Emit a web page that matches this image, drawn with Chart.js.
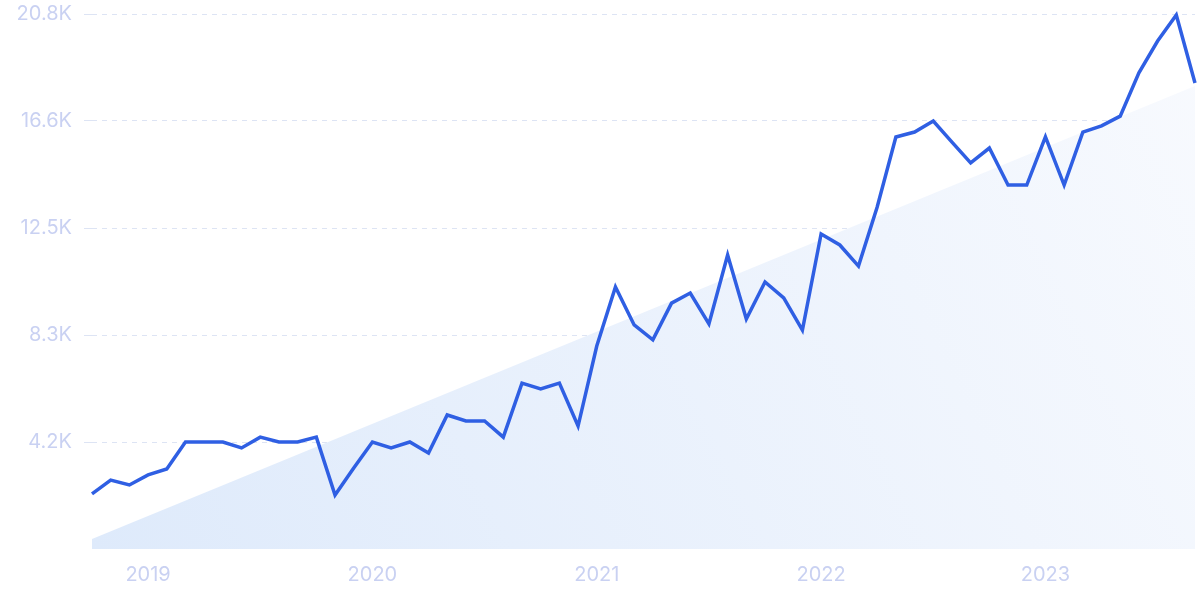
<!DOCTYPE html>
<html>
<head>
<meta charset="utf-8">
<script src="https://cdn.jsdelivr.net/npm/chart.js@4"></script>
<style>
  html, body { margin: 0; padding: 0; background: #fff; }
  #wrap { width: 1200px; height: 600px; overflow: hidden; position: relative; }
  #inner { position: absolute; left: 0; top: -10px; width: 1200px; height: 610px; }
</style>
</head>
<body>
<div id="wrap"><div id="inner"><canvas id="chart"></canvas></div></div>
<script>
// Monthly values (thousands), Oct 2018 .. Sep 2023
const values = [
  2.14, 2.68, 2.49, 2.88, 3.11, 4.16, 4.16, 4.16, 3.93, 4.35,
  4.16, 4.16, 4.35, 2.10, 3.15, 4.16, 3.93, 4.16, 3.73, 5.21,
  4.98, 4.98, 4.35, 6.45, 6.22, 6.45, 4.78, 7.89, 10.19, 8.71,
  8.13, 9.56, 9.95, 8.75, 11.43, 8.94, 10.38, 9.76, 8.51, 12.25,
  11.82, 11.00, 13.30, 16.02, 16.21, 16.64, 15.82, 15.01, 15.59, 14.15,
  14.15, 16.02, 14.15, 16.21, 16.45, 16.83, 18.51, 19.75, 20.76, 18.12
];
// Trend line endpoints
const trendStart = 0.39;
const trendEnd = 18.0;
// Year labels at month index (January)
const yearTicks = [3, 15, 27, 39, 51];
const yearLabels = ['2019', '2020', '2021', '2022', '2023'];

const lineData = values.map((v, i) => ({ x: i, y: v }));
const trendData = [{ x: 0, y: trendStart }, { x: values.length - 1, y: trendEnd }];

const ctx = document.getElementById('chart').getContext('2d');
new Chart(ctx, {
  type: 'line',
  data: {
    datasets: [{
      data: lineData,
      borderColor: '#2f5fe3',
      borderWidth: 3.5,
      pointRadius: 0,
      tension: 0,
      fill: false,
      clip: false,
      order: 0
    }, {
      data: trendData,
      borderWidth: 0,
      pointRadius: 0,
      fill: 'origin',
      order: 1,
      backgroundColor: function(context) {
        const area = context.chart.chartArea;
        if (!area) return 'rgba(225,236,252,0.8)';
        const g = context.chart.ctx.createLinearGradient(area.left, area.bottom, area.right, area.top);
        g.addColorStop(0, 'rgba(222,234,251,1)');
        g.addColorStop(1, 'rgba(248,250,254,1)');
        return g;
      }
    }]
  },
  options: {
    responsive: true,
    maintainAspectRatio: false,
    animation: false,
    layout: { padding: { left: 12, right: 5, top: 0, bottom: 7 } },
    plugins: { legend: { display: false }, tooltip: { enabled: false } },
    scales: {
      x: {
        type: 'linear',
        min: 0,
        max: values.length - 1,
        grid: { display: false },
        border: { display: false },
        afterBuildTicks: function(scale) {
          scale.ticks = yearTicks.map(v => ({ value: v }));
        },
        ticks: {
          autoSkip: false,
          maxRotation: 0,
          padding: 6,
          color: '#c9d1f2',
          font: { family: 'Inter', size: 20 },
          callback: function(value) {
            const k = yearTicks.indexOf(value);
            return k >= 0 ? yearLabels[k] : '';
          }
        }
      },
      y: {
        min: 0,
        max: 20.8,
        afterFit: function(scale) { scale.width = 80; },
        afterBuildTicks: function(scale) {
          scale.ticks = [0, 4.16, 8.32, 12.48, 16.64, 20.8].map(v => ({ value: v }));
        },
        grid: {
          color: function(c) { return c.tick.value === 0 ? 'rgba(0,0,0,0)' : '#dde4f4'; },
          lineWidth: 1
        },
        border: { display: false, dash: [5, 5] },
        ticks: {
          padding: 12,
          color: '#c9d1f2',
          font: { family: 'Inter', size: 20 },
          callback: function(value) {
            return value === 0 ? '' : value.toFixed(1) + 'K';
          }
        }
      }
    }
  }
});
</script>
</body>
</html>
